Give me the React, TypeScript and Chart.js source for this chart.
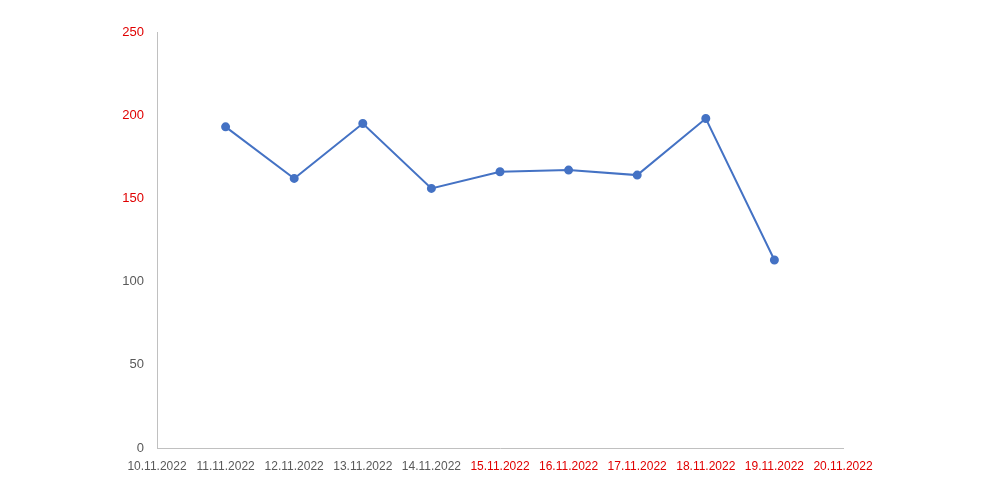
import React, { useEffect, useRef } from "react";
import { Chart, registerables } from "chart.js";

Chart.register(...registerables);

const categories = [
  "10.11.2022", "11.11.2022", "12.11.2022", "13.11.2022", "14.11.2022",
  "15.11.2022", "16.11.2022", "17.11.2022", "18.11.2022", "19.11.2022", "20.11.2022",
];
const values: (number | null)[] = [null, 193, 162, 195, 156, 166, 167, 164, 198, 113, null];
const redFromIndex = 5;
const yRedFrom = 150;

export default function App() {
  const ref = useRef<HTMLCanvasElement | null>(null);
  useEffect(() => {
    document.body.style.margin = "0";
    if (!ref.current) return;
    const chart = new Chart(ref.current, {
      type: "line",
      data: {
        labels: categories,
        datasets: [
          {
            data: values,
            borderColor: "#4472C4",
            backgroundColor: "#4472C4",
            borderWidth: 2,
            pointRadius: 3.5,
            pointBackgroundColor: "#4472C4",
            pointBorderColor: "#4472C4",
            tension: 0,
          },
        ],
      },
      options: {
        responsive: false,
        animation: false,
        layout: { padding: { top: 32, right: 157, bottom: 0, left: 0 } },
        plugins: { legend: { display: false }, tooltip: { enabled: false } },
        scales: {
          x: {
            offset: false,
            grid: { display: false },
            border: { display: true, color: "#c0c0c0", width: 1 },
            ticks: {
              autoSkip: false,
              maxRotation: 0,
              padding: 3,
              font: { family: "Liberation Sans", size: 12 },
              color: (ctx: any) => (ctx.index >= redFromIndex ? "#e00000" : "#595959"),
            },
            afterFit: (s: any) => {
              s.height = 51;
            },
          },
          y: {
            min: 0,
            max: 250,
            grid: { display: false },
            border: { display: true, color: "#c0c0c0", width: 1 },
            ticks: {
              stepSize: 50,
              padding: 5,
              font: { family: "Liberation Sans", size: 13 },
              color: (ctx: any) => (ctx.tick && ctx.tick.value >= yRedFrom ? "#e00000" : "#595959"),
            },
            afterFit: (s: any) => {
              s.width = 157;
            },
          },
        },
      },
    });
    return () => chart.destroy();
  }, []);
  return <canvas ref={ref} width={1000} height={499} style={{ display: "block" }} />;
}
